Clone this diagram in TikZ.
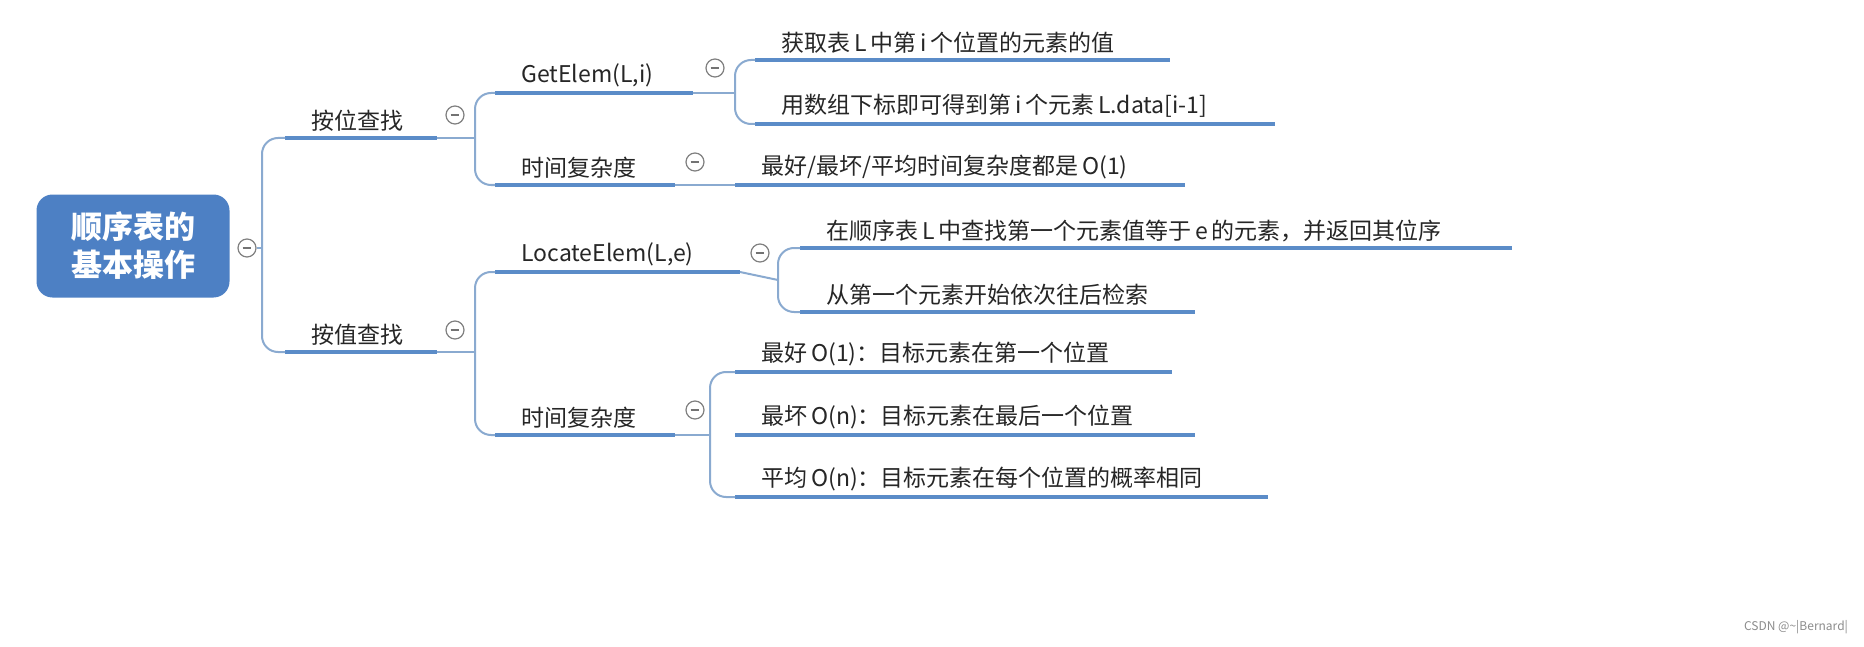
\documentclass[tikz,border=0pt]{standalone}
\usepackage{fontspec}
\setmainfont{Noto Sans CJK SC}
\definecolor{ln}{HTML}{5B8CC8}
\definecolor{cn}{HTML}{8AAAD0}
\definecolor{rootc}{HTML}{4D80C4}
\begin{document}
\begin{tikzpicture}[x=0.5pt,y=-0.5pt,
  ul/.style={ln,line width=2pt},
  conn/.style={cn,line width=1pt,rounded corners=8pt},
  lbl/.style={anchor=south west,font=\fontsize{11.5pt}{13pt}\selectfont,text=black!85,inner sep=0pt},
  mn/.style={circle,draw=black!50,fill=white,line width=0.6pt,minimum size=9pt,inner sep=0pt,
    path picture={\draw[black!55,line width=0.6pt] ([xshift=-2.2pt]path picture bounding box.center)--([xshift=2.2pt]path picture bounding box.center);}}]
\useasboundingbox (0,0) rectangle (1864,647);
\fill[white] (0,0) rectangle (1864,647);
% root
\node[fill=rootc,rounded corners=8pt,minimum width=96.5pt,minimum height=51.5pt,text=white,
  font=\fontsize{15.5pt}{19pt}\selectfont\bfseries,align=center] (root) at (133,246) {顺序表的\\基本操作};
\node[mn] (m0) at (247,248) {};
% underline helper
\newcommand\ul[5]{% name, x1, x2, y, text
  \coordinate (#1a) at (#2,#4); \coordinate (#1b) at (#3,#4);
  \draw[ul] (#1a)--(#1b);
  \node[lbl] (#1t) at ([xshift=13pt,yshift=3pt]#1a) {#5};}
\ul{a}{285}{437}{138}{按位查找}
\ul{b}{285}{437}{352}{按值查找}
\ul{a1}{495}{693}{93}{GetElem(L,i)}
\ul{a2}{495}{675}{185}{时间复杂度}
\ul{a11}{755}{1170}{60}{获取表\,L\,中第\,i\,个位置的元素的值}
\ul{a12}{755}{1275}{124}{用数组下标即可得到第\,i\,个元素\,L.data[i-1]}
\ul{a21}{735}{1185}{185}{最好/最坏/平均时间复杂度都是\,O(1)}
\ul{b1}{495}{740}{272}{LocateElem(L,e)}
\ul{b2}{495}{675}{435}{时间复杂度}
\ul{b11}{800}{1512}{248}{在顺序表\,L\,中查找第一个元素值等于\,e\,的元素，并返回其位序}
\ul{b12}{800}{1195}{312}{从第一个元素开始依次往后检索}
\ul{b21}{735}{1172}{372}{最好\,O(1)：目标元素在第一个位置}
\ul{b22}{735}{1195}{435}{最坏\,O(n)：目标元素在最后一个位置}
\ul{b23}{735}{1268}{497}{平均\,O(n)：目标元素在每个位置的概率相同}
\node[mn] (ma) at (455,115) {};
\node[mn] (mb) at (455,330) {};
\node[mn] (ma1) at (715,68) {};
\node[mn] (ma2) at (695,162) {};
\node[mn] (mb1) at (760,253) {};
\node[mn] (mb2) at (695,410) {};
% connectors
\draw[conn] (m0.east) -- (262,248);
\draw[conn] (aa) -| (262,248) |- (ba);
\draw[conn] (ab) -- (475,138);
\draw[conn] (a1a) -| (475,138) |- (a2a);
\draw[conn] (a1b) -- (735,93);
\draw[conn] (a11a) -| (735,93) |- (a12a);
\draw[conn] (a2b) -- (a21a);
\draw[conn] (bb) -- (475,352);
\draw[conn] (b1a) -| (475,352) |- (b2a);
\draw[conn] (b1b) -- (778,280);
\draw[conn] (b11a) -| (778,280) |- (b12a);
\draw[conn] (b2b) -- (710,435);
\draw[conn] (b21a) -| (710,435) |- (b23a);
\draw[ln,line width=2pt] (a2a)--(a2b);
\draw[ln,line width=2pt] (b2a)--(b2b);
\node[font=\fontsize{6pt}{7pt}\selectfont,text=black!45,anchor=east] (wm) at (1855,627) {CSDN @\textasciitilde|Bernard|};
\end{tikzpicture}
\end{document}
